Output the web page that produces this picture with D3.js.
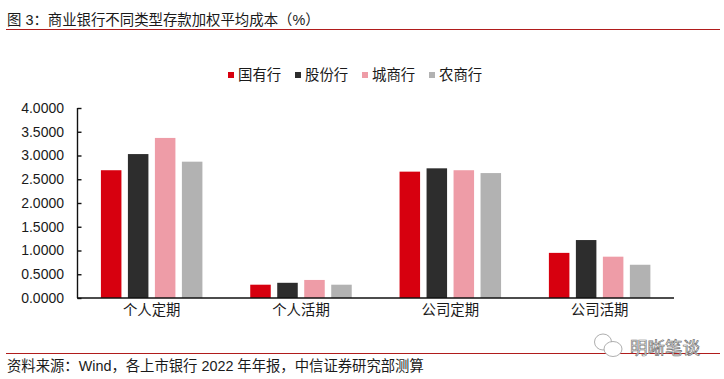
<!DOCTYPE html>
<html>
<head>
<meta charset="utf-8">
<script src="https://cdn.jsdelivr.net/npm/d3@7"></script>
<style>
  html, body { margin: 0; padding: 0; background: #fff; }
  svg { display: block; }
  text { font-family: "Liberation Sans", "Noto Sans CJK SC", sans-serif; fill: #1a1a1a; }
</style>
</head>
<body>
<script>
var width = 724,
  height = 379;

// data
var categories = ["个人定期", "个人活期", "公司定期", "公司活期"];
var seriesNames = ["国有行", "股份行", "城商行", "农商行"];
var stateOwned = [2.69, 0.28, 2.66, 0.95];
var jointStock = [3.03, 0.32, 2.73, 1.22];
var cityBanks = [3.37, 0.38, 2.69, 0.87];
var ruralBanks = [2.87, 0.28, 2.63, 0.70];
var seriesValues = [stateOwned, jointStock, cityBanks, ruralBanks];
var seriesColors = ["#d7000f", "#2d2d2d", "#ee9ca7", "#b2b2b2"];
var yTicks = [0, 0.5, 1, 1.5, 2, 2.5, 3, 3.5, 4];

var titleText = "图 3：商业银行不同类型存款加权平均成本（%）";
var sourceText = "资料来源：Wind，各上市银行 2022 年年报，中信证券研究部测算";
var watermarkText = "明晰笔谈";

var svg = d3.select("body").append("svg").attr("width", width).attr("height", height);

var x = d3.scaleBand().domain(categories).range([77, 674.3]);
var inner = d3.scaleBand().domain(seriesNames).range([-50.75, 50.75]).paddingInner(0.24);
var y = d3.scaleLinear().domain([0, 4]).range([298, 108]);

// header and footer
svg.append("text").attr("x", 7).attr("y", 25).attr("font-size", 14.4).text(titleText);
svg.append("line").attr("x1", 6).attr("x2", 720).attr("y1", 29.5).attr("y2", 29.5)
  .attr("stroke", "#b01c1c").attr("stroke-width", 1);
svg.append("line").attr("x1", 6).attr("x2", 720).attr("y1", 353.5).attr("y2", 353.5)
  .attr("stroke", "#b01c1c").attr("stroke-width", 1);
svg.append("text").attr("x", 7).attr("y", 371).attr("font-size", 14.35).text(sourceText);

// bars
svg.selectAll("g.series")
  .data(seriesValues)
  .join("g")
  .attr("class", "series")
  .attr("fill", function (d, i) {
    return seriesColors[i];
  })
  .each(function (vals, i) {
    d3.select(this)
      .selectAll("rect")
      .data(vals)
      .join("rect")
      .attr("x", function (d, j) {
        return x(categories[j]) + x.bandwidth() / 2 + inner(seriesNames[i]);
      })
      .attr("y", function (d) {
        return y(d);
      })
      .attr("width", inner.bandwidth())
      .attr("height", function (d) {
        return y(0) - y(d);
      });
  });

// axes
var yAxis = svg.append("g")
  .attr("transform", "translate(77.5,0)")
  .call(d3.axisLeft(y).tickValues(yTicks).tickSize(-4).tickPadding(13.5).tickFormat(d3.format(".4f")));
yAxis.selectAll("text").attr("font-size", 14).attr("fill", "#1a1a1a");
yAxis.selectAll("line, path").attr("stroke", "#111").attr("stroke-width", 1.4);
yAxis.select("path").attr("d", "M0,108V298");

var xAxis = svg.append("g")
  .attr("transform", "translate(0,298)")
  .call(d3.axisBottom(x).tickSize(0).tickPadding(7));
xAxis.selectAll("text").attr("font-size", 14.4).attr("fill", "#1a1a1a");
xAxis.select("path").attr("stroke", "#111").attr("stroke-width", 1.4).attr("d", "M77,0H674");

// legend
var legendX = d3.scalePoint().domain(seriesNames).range([228, 429]);
var legend = svg.selectAll("g.legend")
  .data(seriesNames)
  .join("g")
  .attr("class", "legend")
  .attr("transform", function (d) {
    return "translate(" + legendX(d) + ",75)";
  });
legend.append("rect").attr("y", -3).attr("width", 6).attr("height", 6)
  .attr("fill", function (d, i) {
    return seriesColors[i];
  });
legend.append("text").attr("x", 10).attr("y", 5).attr("font-size", 14.4)
  .text(function (d) {
    return d;
  });

// watermark
var mark = svg.append("g").attr("fill", "#fff").attr("stroke", "#999").attr("stroke-width", 0.8);
mark.append("ellipse").attr("cx", 603).attr("cy", 342).attr("rx", 8.5).attr("ry", 8);
mark.append("ellipse").attr("cx", 613).attr("cy", 349).attr("rx", 9).attr("ry", 7.5);
svg.append("text").attr("x", 630).attr("y", 354).attr("font-size", 17.5)
  .style("fill", "#fff").attr("stroke", "#777").attr("stroke-width", 0.7)
  .text(watermarkText);
</script>
</body>
</html>
